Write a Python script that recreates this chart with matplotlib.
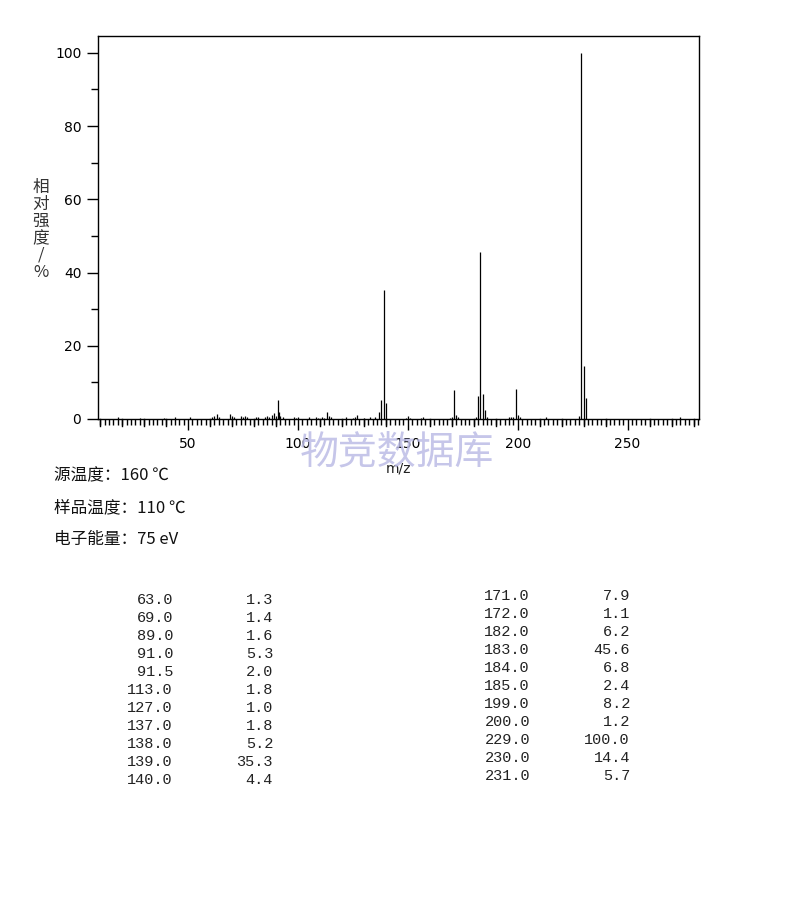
import numpy as np
import matplotlib.pyplot as plt
from matplotlib.ticker import MultipleLocator

# ── Data ──────────────────────────────────────────────────────
# main peaks (listed in the table)
mz_main = [63.0, 69.0, 89.0, 91.0, 91.5, 113.0, 127.0, 137.0, 138.0, 139.0, 140.0,
           171.0, 172.0, 182.0, 183.0, 184.0, 185.0, 199.0, 200.0, 229.0, 230.0, 231.0]
int_main = [1.3, 1.4, 1.6, 5.3, 2.0, 1.8, 1.0, 1.8, 5.2, 35.3, 4.4,
            7.9, 1.1, 6.2, 45.6, 6.8, 2.4, 8.2, 1.2, 100.0, 14.4, 5.7]

# small peaks (< 1 %)
mz_minor = [18, 28, 39, 44, 51, 61, 62, 64, 70, 71, 74, 75, 76, 77, 81, 82, 85, 86,
            87, 88, 90, 92, 93, 98, 99, 100, 105, 108, 109, 111, 112, 114, 115, 122,
            125, 126, 130, 133, 135, 149, 150, 151, 156, 157, 169, 170, 173, 181,
            186, 196, 197, 198, 201, 213, 228, 274]
int_minor = [0.5, 0.4, 0.4, 0.5, 0.5, 0.5, 0.8, 0.5, 0.8, 0.5, 0.7, 0.5, 0.7, 0.5, 0.5, 0.5, 0.6, 0.7,
             0.6, 1.0, 0.8, 0.7, 0.5, 0.5, 0.4, 0.5, 0.5, 0.5, 0.4, 0.5, 0.4, 0.8, 0.5, 0.5,
             0.4, 0.5, 0.4, 0.5, 0.5, 0.4, 0.7, 0.4, 0.4, 0.5, 0.4, 0.6, 0.5, 0.5,
             0.5, 0.5, 0.5, 0.6, 0.6, 0.6, 0.8, 0.5]

conditions = ["源温度：160 ℃", "样品温度：110 ℃", "电子能量：75 eV"]

# ── Figure ────────────────────────────────────────────────────
W, H = 794, 907
fig = plt.figure(figsize=(W / 100, H / 100), dpi=100)
ax = fig.add_axes([98 / W, 1 - 419 / H, 601 / W, 383 / H])

ax.vlines(mz_minor, 0, int_minor, color="black", lw=0.9)
ax.vlines(mz_main, 0, int_main, color="black", lw=0.9)

ax.set_xlim(9, 282.5)
ax.set_ylim(0, 104.6)
ax.xaxis.set_major_locator(MultipleLocator(50))
ax.xaxis.set_minor_locator(MultipleLocator(2))
ax.yaxis.set_major_locator(MultipleLocator(20))
ax.yaxis.set_minor_locator(MultipleLocator(10))
ax.tick_params(axis="x", which="major", length=8, width=1, labelsize=10, pad=5)
ax.tick_params(axis="x", which="minor", length=4, width=1)
ax.tick_params(axis="y", which="major", length=8, width=1, labelsize=10, pad=4)
ax.tick_params(axis="y", which="minor", length=5, width=1)
# longer ticks every 10 units on x
for x in np.arange(10, 283, 10):
    if x % 50:
        ax.plot([x, x], [0, -7 / 3.66], color="black", lw=1, clip_on=False)
for s in ax.spines.values():
    s.set_linewidth(1)

# y label, characters stacked
fig.text(41 / W, 1 - 230 / H, "相\n对\n强\n度\n/\n%", ha="center", va="center",
         fontsize=12, family=["Noto Sans CJK SC", "DejaVu Sans"], color="#333333",
         linespacing=1.0)
fig.text(398 / W, 1 - 468 / H, "m/z", ha="center", va="center", fontsize=10, color="#222222")

# watermark
fig.text(397 / W, 1 - 453 / H, "物竞数据库", ha="center", va="center", fontsize=28,
         family="Noto Sans CJK SC", color="#bcbce6", alpha=0.85)

# conditions
for i, t in enumerate(conditions):
    fig.text(54 / W, 1 - (476 + 31.5 * i) / H, t, ha="left", va="center", fontsize=12,
             family=["Noto Sans CJK SC", "DejaVu Sans"], color="#111111")

# peak table: two columns of 11 rows
mono = "Liberation Mono"
n_left = 11
for i, (m, v) in enumerate(zip(mz_main, int_main)):
    if i < n_left:
        x1, x2, y0, r = 173, 273, 600, i
    else:
        x1, x2, y0, r = 530, 630, 596, i - n_left
    y = 1 - (y0 + 18 * r) / H
    fig.text(x1 / W, y, f"{m:.1f}", ha="right", va="center", fontsize=11,
             family=mono, color="#222222")
    fig.text(x2 / W, y, f"{v:.1f}", ha="right", va="center", fontsize=11,
             family=mono, color="#222222")

fig.savefig("out.png", dpi=100)
